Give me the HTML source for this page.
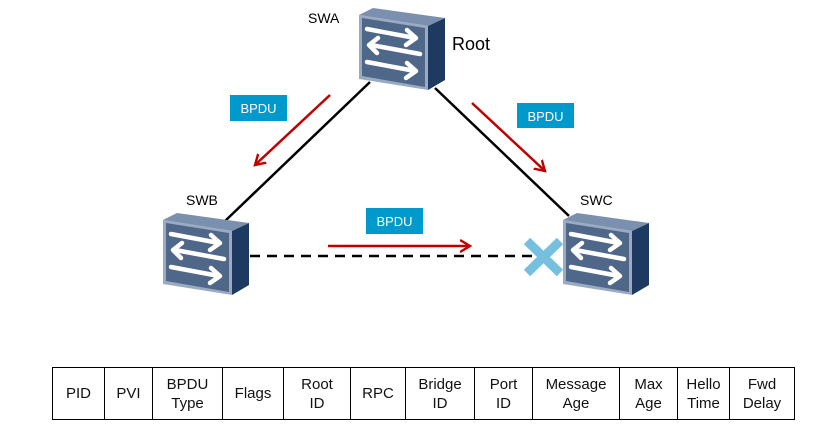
<!DOCTYPE html>
<html><head><meta charset="utf-8"><style>
body{margin:0;background:#fff;width:817px;height:438px;overflow:hidden;font-family:"Liberation Sans",Arial,sans-serif}
table{position:absolute;left:52px;top:367px;border-collapse:collapse;height:53px}
td{border:1px solid #000;text-align:center;font-size:15px;line-height:19px;padding:0;color:#111}
</style></head><body>
<svg width="817" height="438" style="position:absolute;left:0;top:0">
<defs>
<g id="sw">
<polygon points="4,10 18,3 90,13 73,21" fill="#7b8fae"/>
<polygon points="73,21 90,13 90,75 73,85" fill="#1f3a60"/>
<polygon points="4,10 73,21 73,85 4,74" fill="#9aaac2"/>
<polygon points="7,13 70,23 70,82 7,71" fill="#4f6788"/>
<g stroke="#fff" stroke-width="4.5" fill="none" stroke-linecap="round" stroke-linejoin="round">
<line x1="12" y1="24" x2="60" y2="33"/><polyline points="52,25 61,33 51,40"/>
<line x1="65" y1="49" x2="16" y2="40"/><polyline points="23,33 14,40 22,48"/>
<line x1="12" y1="57" x2="60" y2="66"/><polyline points="52,58 61,66 51,73"/>
</g>
</g>
<marker id="ah" markerWidth="14" markerHeight="14" refX="10" refY="7" orient="auto" markerUnits="userSpaceOnUse">
<polyline points="0,1 10,7 0,13" fill="none" stroke="#c00000" stroke-width="2.4"/>
</marker>
</defs>
<line x1="370" y1="82" x2="224" y2="222" stroke="#000" stroke-width="2.5"/>
<line x1="435" y1="88" x2="569" y2="216" stroke="#000" stroke-width="2.5"/>
<line x1="250" y1="256" x2="533" y2="256" stroke="#000" stroke-width="2.5" stroke-dasharray="10,7"/>
<use href="#sw" x="355" y="5"/>
<use href="#sw" x="159" y="210"/>
<use href="#sw" x="559" y="210"/>
<g stroke="#74c0de" stroke-width="9"><line x1="527" y1="241" x2="560" y2="273"/><line x1="560" y1="241" x2="527" y2="273"/></g>
<g stroke="#c00000" stroke-width="2.5" marker-end="url(#ah)">
<line x1="330" y1="95" x2="255" y2="165"/>
<line x1="472" y1="103" x2="545" y2="171"/>
<line x1="328" y1="246" x2="470" y2="246"/>
</g>
<g fill="#0099cc"><rect x="230" y="95" width="57" height="26"/><rect x="517" y="103" width="57" height="25"/><rect x="366" y="208" width="57" height="26"/></g>
<g fill="#fff" font-size="13" text-anchor="middle"><text x="258.5" y="113">BPDU</text><text x="545.5" y="121">BPDU</text><text x="394.5" y="226">BPDU</text></g>
<g font-size="14" fill="#000"><text x="308" y="23">SWA</text><text x="186" y="205">SWB</text><text x="580" y="205">SWC</text></g>
<text x="452" y="50" font-size="18">Root</text>
</svg>
<table><tr>
<td style="width:51px">PID</td><td style="width:47px">PVI</td><td style="width:69px">BPDU<br>Type</td><td style="width:60px">Flags</td><td style="width:66px">Root<br>ID</td><td style="width:54px">RPC</td><td style="width:68px">Bridge<br>ID</td><td style="width:57px">Port<br>ID</td><td style="width:86px">Message<br>Age</td><td style="width:57px">Max<br>Age</td><td style="width:51px">Hello<br>Time</td><td style="width:64px">Fwd<br>Delay</td>
</tr></table>
</body></html>
